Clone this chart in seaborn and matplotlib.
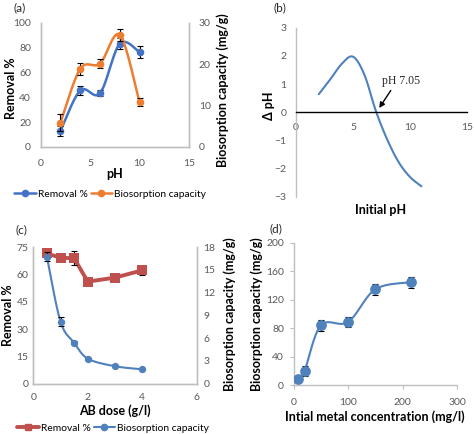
import numpy as np
import pandas as pd
import matplotlib
matplotlib.use('Agg')
import matplotlib.pyplot as plt
import seaborn as sns
from matplotlib.lines import Line2D

# ------------------------------------------------------------
# DATA
# ------------------------------------------------------------

# (a) effect of pH
ph = [2, 4, 6, 8, 10]
removal_ph = [13, 45.6, 43.4, 83.3, 76.5]
removal_ph_err = [4.3, 3.8, 2.6, 4.4, 5.1]
capacity_ph = [5.9, 18.9, 20.2, 27.1, 10.8]
capacity_ph_err = [2.0, 1.5, 1.0, 1.4, 1.0]

# (b) point of zero charge
initial_ph = [2, 3, 4, 5, 6, 7, 8, 9, 10, 11]
delta_ph = [0.64, 1.16, 1.71, 1.97, 1.33, 0.05, -0.97, -1.77, -2.3, -2.63]

# (c) effect of adsorbent dose
dose = [0.5, 1, 1.5, 2, 3, 4]
removal_dose = [71.5, 69.1, 68.8, 56.0, 58.2, 62.2]
removal_dose_err = [2.5, 1.0, 3.8, 1.0, 1.0, 2.5]
capacity_dose = [16.7, 8.16, 5.4, 3.3, 2.3, 1.9]
capacity_dose_err = [0.6, 0.6, 0.2, 0.1, 0.1, 0.1]

# (d) effect of initial metal concentration
conc = [8, 20, 50, 100, 150, 215]
capacity_conc = [9.3, 20.6, 84.3, 89, 135, 144.8]
capacity_conc_err = [3, 7, 8, 7, 8, 8]

# ------------------------------------------------------------
# HELPERS
# ------------------------------------------------------------

BLUE_A = '#4472C4'
ORANGE = '#ED7D31'
RED = '#C0504D'
BLUE = '#4F81BD'
AXIS_GREY = '#BFBFBF'
TICK_GREY = '#595959'

W, H = 474, 434


def px_rect(left, top, right, bottom):
    return [left / W, 1 - bottom / H, (right - left) / W, (bottom - top) / H]


def smooth(x, y, n=40):
    # excel-style smoothed line (bezier through the points)
    pts = np.column_stack([x, y]).astype(float)
    out = []
    for i in range(len(pts) - 1):
        p0 = pts[max(i - 1, 0)]
        p1 = pts[i]
        p2 = pts[i + 1]
        p3 = pts[min(i + 2, len(pts) - 1)]
        c1 = p1 + (p2 - p0) / 6
        c2 = p2 - (p3 - p1) / 6
        t = np.linspace(0, 1, n)[:, None]
        seg = ((1 - t) ** 3) * p1 + 3 * ((1 - t) ** 2) * t * c1 \
            + 3 * (1 - t) * (t ** 2) * c2 + (t ** 3) * p2
        out.append(seg if i == 0 else seg[1:])
    out = np.vstack(out)
    return pd.DataFrame({'x': out[:, 0], 'y': out[:, 1]})


def style(ax, spines, tick_len=0, pad=7):
    for name, sp in ax.spines.items():
        sp.set_visible(name in spines)
        sp.set_color(AXIS_GREY)
        sp.set_linewidth(1)
    ax.tick_params(colors=AXIS_GREY, labelcolor=TICK_GREY, labelsize=7.5,
                   length=tick_len, width=0.8, direction='out', pad=pad,
                   bottom=True, left=True)
    ax.grid(False)


def draw_series(ax, x, y, err, color, lw, ms, marker='o', smooth_line=True):
    if smooth_line:
        line = smooth(x, y)
    else:
        line = pd.DataFrame({'x': x, 'y': y})
    sns.lineplot(data=line, x='x', y='y', ax=ax, color=color, lw=lw,
                 sort=False, estimator=None)
    ax.errorbar(x, y, yerr=err, fmt='none', ecolor='black', elinewidth=0.8,
                capsize=2, capthick=0.8, zorder=3)
    sns.scatterplot(x=x, y=y, ax=ax, color=color, marker=marker, s=ms,
                    edgecolor=color, linewidth=0, zorder=4)
    ax.set_xlabel('')
    ax.set_ylabel('')


def label(x, y, text, rot=0):
    # axis titles placed in pixel units of the figure
    fig.text(x / W, 1 - y / H, text, rotation=rot, ha='center', va='center',
             fontsize=9, fontweight='bold', color='black')


sns.set_theme(style='white')
plt.rcParams['font.family'] = ['Lato', 'DejaVu Sans']

fig = plt.figure(figsize=(4.74, 4.34), dpi=100)

legend_kw = dict(ncol=2, loc='center', frameon=False, fontsize=7.4,
                 handlelength=2.1, handletextpad=0.15, columnspacing=0.3,
                 labelcolor='black')

# ------------------------------------------------------------
# (a)
# ------------------------------------------------------------

ax_a = fig.add_axes(px_rect(40.7, 23, 189, 147))
ax_a2 = ax_a.twinx()

draw_series(ax_a, ph, removal_ph, removal_ph_err, BLUE_A, 1.8, 30)
draw_series(ax_a2, ph, capacity_ph, capacity_ph_err, ORANGE, 1.8, 30)

ax_a.set_xlim(0, 15)
ax_a.set_ylim(0, 100)
ax_a2.set_ylim(0, 30)
ax_a.set_xticks([0, 5, 10, 15])
ax_a.set_yticks(range(0, 101, 20))
ax_a2.set_yticks(range(0, 31, 10))
style(ax_a, ['left', 'bottom', 'right'])
style(ax_a2, ['left', 'bottom', 'right'])
ax_a.tick_params(axis='x', pad=9)
ax_a2.tick_params(right=True, left=False)

label(115, 174, 'pH')
label(11, 88, 'Removal %', rot=90)
label(222.7, 90, 'Biosorption capacity (mg/g)', rot=90)

handles_a = [
    Line2D([], [], color=BLUE_A, lw=1.8, marker='o', ms=4.5),
    Line2D([], [], color=ORANGE, lw=1.8, marker='o', ms=4.5),
]
fig.legend(handles_a, ['Removal %', 'Biosorption capacity'],
           bbox_to_anchor=(110 / W, 1 - 194 / H), **legend_kw)

fig.text(14 / W, 1 - 8 / H, '(a)', fontsize=8.5, va='center', ha='left')

# ------------------------------------------------------------
# (b)
# ------------------------------------------------------------

ax_b = fig.add_axes(px_rect(296, 27.7, 467, 196.7))
sns.lineplot(data=smooth(initial_ph, delta_ph), x='x', y='y', ax=ax_b,
             color=BLUE, lw=1.5, sort=False, estimator=None)
ax_b.set_xlim(0, 15)
ax_b.set_ylim(-3, 3)
ax_b.set_xticks([0, 5, 10, 15])
ax_b.set_yticks(range(-3, 4))
style(ax_b, ['left', 'bottom'])
ax_b.spines['bottom'].set_position(('data', 0))
ax_b.spines['bottom'].set_color('black')
ax_b.tick_params(axis='x', pad=8)
ax_b.set_xlabel('')
ax_b.set_ylabel('')
label(381, 210, 'Initial pH')
label(268.7, 106, '\u0394 pH', rot=90)
ax_b.annotate('pH 7.05', xy=(7.3, 0.15), xytext=(7.5, 1.1),
              fontsize=8.5, family=['Liberation Serif', 'DejaVu Serif'],
              va='center', ha='left',
              arrowprops=dict(arrowstyle='-|>', color='black', lw=1,
                              mutation_scale=8, shrinkA=0, shrinkB=0,
                              relpos=(0.3, 0)))

fig.text(273 / W, 1 - 8 / H, '(b)', fontsize=8.5, va='center', ha='left')

# ------------------------------------------------------------
# (c)
# ------------------------------------------------------------

ax_c = fig.add_axes(px_rect(33.3, 247, 196.7, 383.7))
ax_c2 = ax_c.twinx()

draw_series(ax_c, dose, removal_dose, removal_dose_err, RED, 2.8, 45,
            marker='s', smooth_line=False)
draw_series(ax_c2, dose, capacity_dose, capacity_dose_err, BLUE, 1.5, 28)

ax_c.set_xlim(0, 6)
ax_c.set_ylim(0, 75)
ax_c2.set_ylim(0, 18)
ax_c.set_xticks([0, 2, 4, 6])
ax_c.set_yticks(range(0, 76, 15))
ax_c2.set_yticks(range(0, 19, 3))
style(ax_c, ['left', 'bottom', 'right'], pad=3.6)
style(ax_c2, ['left', 'bottom', 'right'], pad=5)
ax_c.tick_params(axis='x', pad=7)
ax_c2.tick_params(right=True, left=False)

label(115, 411, 'AB dose (g/l)')
label(8, 315, 'Removal %', rot=90)
label(230, 313.7, 'Biosorption capacity (mg/g)', rot=90)

handles_c = [
    Line2D([], [], color=RED, lw=2.8, marker='s', ms=5),
    Line2D([], [], color=BLUE, lw=1.5, marker='o', ms=4.5),
]
fig.legend(handles_c, ['Removal %', 'Biosorption capacity'],
           bbox_to_anchor=(113 / W, 1 - 428 / H), **legend_kw)

fig.text(16 / W, 1 - 230 / H, '(c)', fontsize=8.5, va='center', ha='left')

# ------------------------------------------------------------
# (d)
# ------------------------------------------------------------

ax_d = fig.add_axes(px_rect(293.7, 243, 457, 385.3))
draw_series(ax_d, conc, capacity_conc, capacity_conc_err, BLUE, 1.5, 60)
ax_d.set_xlim(0, 300)
ax_d.set_ylim(0, 200)
ax_d.set_xticks([0, 100, 200, 300])
ax_d.set_yticks(range(0, 201, 40))
style(ax_d, ['left', 'bottom'], tick_len=3, pad=4)
ax_d.tick_params(axis='x', pad=6)

label(375.3, 417, 'Intial metal concentration (mg/l)')
label(256.3, 313.7, 'Biosorption capacity (mg/g)', rot=90)

fig.text(270 / W, 1 - 229 / H, '(d)', fontsize=8.5, va='center', ha='left')

plt.savefig('out.png', dpi=100)
plt.close()
